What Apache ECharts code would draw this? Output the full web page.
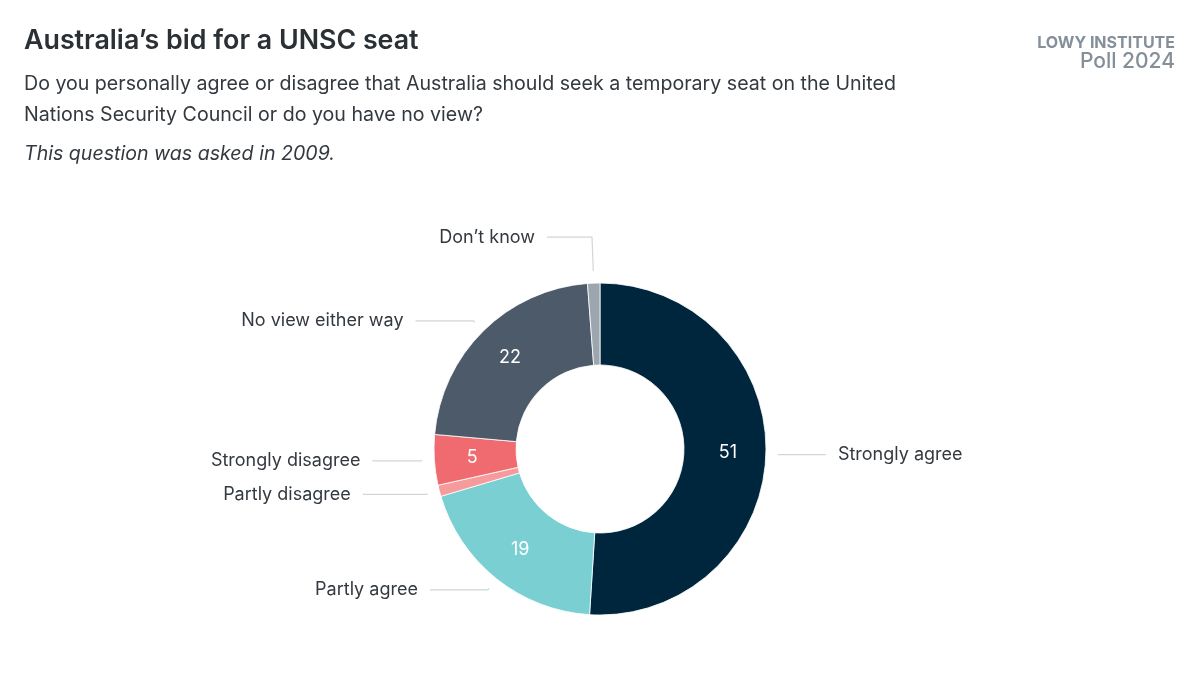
<!DOCTYPE html>
<html>
<head>
<meta charset="utf-8">
<script src="https://cdn.jsdelivr.net/npm/echarts@6/dist/echarts.min.js"></script>
<style>
    html, body { margin: 0; padding: 0; background: #fff; }
    #chart { width: 1200px; height: 693px; }
</style>
</head>
<body>
<div id="chart"></div>
<script>
var categories = ["Strongly agree", "Partly agree", "Partly disagree", "Strongly disagree", "No view either way", "Don’t know"];
var values = [51.0, 19.4, 1.1, 4.9, 22.4, 1.2];
var colors = ["#00263e", "#7acfd3", "#f59b9b", "#ef6b70", "#4c5a6a", "#9ba6ae"];
// label line segments per slice (first, second)
var lineLen = [[2, 46], [2, 58], [2, 63], [2, 48], [2, 58], [34, 45]];

var chartPage = {
    init() {
        var myChart = echarts.init(document.getElementById("chart"));
        var font = "Inter, 'Noto Sans', sans-serif";
        var textColor = "#33393f";

        var outerData = [];
        var innerData = [];
        for (var i = 0; i < categories.length; i++) {
            outerData.push({
                name: categories[i],
                value: values[i],
                labelLine: { length: lineLen[i][0], length2: lineLen[i][1] }
            });
            innerData.push({
                name: categories[i],
                value: values[i],
                itemStyle: { color: colors[i] }
            });
        }

        var option = {
            animation: false,
            title: [
                {
                    text: "Australia’s bid for a UNSC seat",
                    left: 19, top: 22,
                    textStyle: { fontFamily: font, fontSize: 26.8, fontWeight: 600, color: "#2b3035" }
                },
                {
                    text: "Do you personally agree or disagree that Australia should seek a temporary seat on the United\nNations Security Council or do you have no view?",
                    left: 19, top: 64,
                    textStyle: { fontFamily: font, fontSize: 19.6, fontWeight: 400, color: textColor, lineHeight: 31 }
                },
                {
                    text: "This question was asked in 2009.",
                    left: 19, top: 139,
                    textStyle: { fontFamily: font, fontSize: 19.6, fontWeight: 400, fontStyle: "italic", color: textColor }
                },
                {
                    text: "LOWY INSTITUTE",
                    right: 20, top: 30,
                    textStyle: { fontFamily: font, fontSize: 16, fontWeight: 700, color: "#848f9a" }
                },
                {
                    text: "Poll 2024",
                    right: 20, top: 46,
                    textStyle: { fontFamily: font, fontSize: 21, fontWeight: 500, color: "#848f9a" }
                }
            ],
            series: [
                {
                    // invisible wider ring carrying the outside labels
                    type: "pie",
                    center: [600, 449],
                    radius: [84, 178],
                    startAngle: 90,
                    clockwise: true,
                    silent: true,
                    data: outerData,
                    itemStyle: { color: "rgba(0,0,0,0)" },
                    label: {
                        show: true,
                        position: "outside",
                        fontFamily: font,
                        fontSize: 18,
                        color: textColor,
                        distanceToLabelLine: 12
                    },
                    labelLine: {
                        show: true,
                        smooth: false,
                        lineStyle: { color: "#cfd6dc", width: 1.2 }
                    },
                    labelLayout: { hideOverlap: false },
                    z: 1
                },
                {
                    type: "pie",
                    center: [600, 449],
                    radius: [84, 166],
                    startAngle: 90,
                    clockwise: true,
                    silent: true,
                    data: innerData,
                    itemStyle: { borderColor: "#fff", borderWidth: 0.8 },
                    label: {
                        show: true,
                        position: "inside",
                        fontFamily: font,
                        fontSize: 18,
                        color: "#fff",
                        formatter: function (p) {
                            return p.value >= 4 ? Math.round(p.value) : "";
                        }
                    },
                    labelLine: { show: false },
                    z: 2
                }
            ]
        };
        myChart.setOption(option, true);
    }
};

chartPage.init();
</script>
</body>
</html>
